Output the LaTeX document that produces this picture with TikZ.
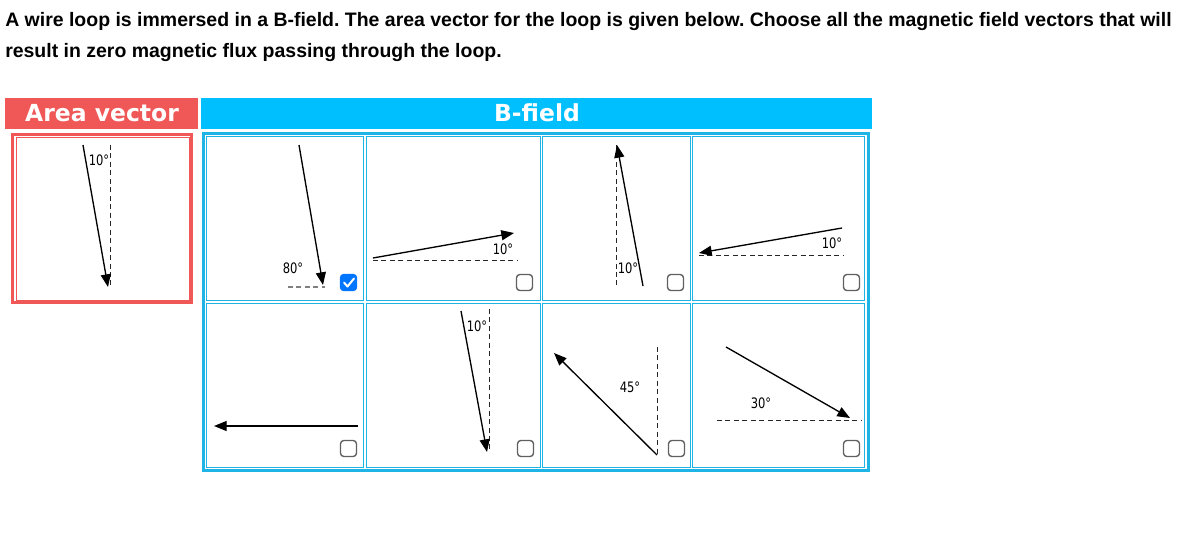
\documentclass[tikz,border=0pt]{standalone}
\usepackage{fontspec}
\setmainfont{Liberation Sans}
\newfontfamily\hdrfont{DejaVu Sans}
\newfontfamily\lblfont[FakeStretch=0.8]{DejaVu Sans}
\usetikzlibrary{arrows.meta}
\definecolor{hred}{RGB}{240,88,88}
\definecolor{hblue}{RGB}{0,191,255}
\definecolor{tblue}{RGB}{30,180,230}
\definecolor{chkblue}{RGB}{0,117,255}
\frenchspacing

\begin{document}
\begin{tikzpicture}[x=0.75pt,y=-0.75pt,
    vec/.style={line width=1pt,-{Triangle[length=9.5pt,width=7.5pt]}},
    refline/.style={dash pattern=on 3.75pt off 2.6pt,line width=0.7pt,black!85},
    lbl/.style={font=\lblfont\fontsize{10.8}{12}\selectfont,inner sep=0pt},
    hdr/.style={font=\hdrfont\bfseries\fontsize{17.6}{20}\selectfont,text=white,anchor=base,inner sep=0pt},
    chk/.style={draw=gray!75!black,rounded corners=2.5pt,line width=1pt,minimum size=12pt,inner sep=0pt}]
  \useasboundingbox[fill=white] (0,0) rectangle (1204,560);

  \node[anchor=base west,inner sep=0pt,font=\bfseries\fontsize{14.6}{17}\selectfont] (q1) at (5,27)
    {A wire loop is immersed in a B-field. The area vector for the loop is given below. Choose all the magnetic field vectors that will};
  \node[anchor=base west,inner sep=0pt,font=\bfseries\fontsize{14.6}{17}\selectfont] (q2) at (5,58)
    {result in zero magnetic flux passing through the loop.};

  \fill[hred]  (5,98)   rectangle (198,129);
  \fill[hblue] (201,98) rectangle (872,129);
  \node[hdr] (harea) at (102,122) {Area vector};
  \node[hdr] (hfield) at (537,122) {B-field};

  \draw[hred,line width=2.25pt] (12.5,134.5) rectangle (191.5,302.5);
  \draw[hred,line width=0.75pt] (16,137.5) rectangle (189,300.5);
  \draw[tblue,line width=2.25pt] (203.5,134) rectangle (868,470);
  \foreach \xa/\xb in {206.5/363.5,366/540,542/690,692.5/864.5}
    \foreach \ya/\yb in {137/300.5,303.5/467}
      \draw[tblue,line width=0.75pt] (\xa,\ya) rectangle (\xb,\yb);

  \coordinate (a0) at (83,145);  \coordinate (a1) at (108,287);
  \draw[refline] (110,145) -- (110,287);
  \draw[vec] (a0) -- (a1);
  \node[lbl] (la) at (99,160) {10°};

  \coordinate (b0) at (299,145); \coordinate (b1) at (323,285);
  \draw[refline,gray,line width=1.5pt] (288,287) -- (325,287);
  \draw[vec] (b0) -- (b1);
  \node[lbl] (lb) at (293,268) {80°};

  \coordinate (c0) at (373,258); \coordinate (c1) at (514,233);
  \draw[refline] (373,260) -- (517,260);
  \draw[vec] (c0) -- (c1);
  \node[lbl] (lc) at (503,249) {10°};

  \coordinate (d0) at (643,286); \coordinate (d1) at (617,145);
  \draw[refline] (616,145) -- (616,287);
  \draw[vec] (d0) -- (d1);
  \node[lbl] (ld) at (628,268) {10°};

  \coordinate (e0) at (842,228); \coordinate (e1) at (699,253);
  \draw[refline] (699,255) -- (843,255);
  \draw[vec] (e0) -- (e1);
  \node[lbl] (le) at (832,243) {10°};

  \coordinate (f0) at (358,426); \coordinate (f1) at (214,426);
  \draw[vec] (f0) -- (f1);

  \coordinate (g0) at (461,311); \coordinate (g1) at (487,452);
  \draw[refline] (489,309) -- (489,452);
  \draw[vec] (g0) -- (g1);
  \node[lbl] (lg) at (477,326) {10°};

  \coordinate (h0) at (657,455); \coordinate (h1) at (554,353);
  \draw[refline] (657,347) -- (657,455);
  \draw[vec] (h0) -- (h1);
  \node[lbl] (lh) at (630,387) {45°};

  \coordinate (i0) at (726,347); \coordinate (i1) at (850,418);
  \draw[refline] (717,420) -- (861,420);
  \draw[vec] (i0) -- (i1);
  \node[lbl] (li) at (761,403) {30°};

  \node[chk,draw=chkblue,fill=chkblue] (k1) at (348.5,282.5) {};
  \draw[white,line width=1.5pt,line cap=round,line join=round]
    (k1.center) ++(-4.5,0) -- ++(3.5,4) -- ++(6.5,-8);
  \node[chk] (k2) at (524.5,282.5) {};
  \node[chk] (k3) at (675.5,282.5) {};
  \node[chk] (k4) at (851.5,282.5) {};
  \node[chk] (k5) at (348.5,448.5) {};
  \node[chk] (k6) at (525.5,448.5) {};
  \node[chk] (k7) at (676.5,448.5) {};
  \node[chk] (k8) at (851.5,448.5) {};
\end{tikzpicture}
\end{document}
